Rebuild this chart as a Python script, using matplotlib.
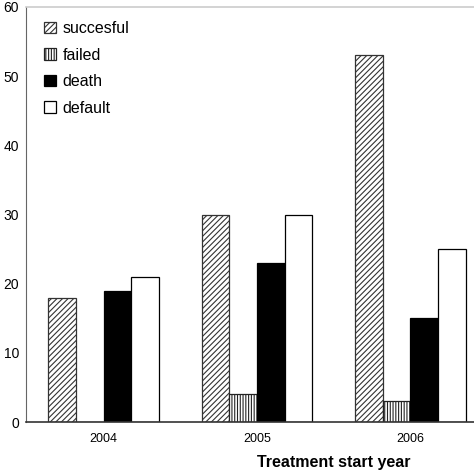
import matplotlib
matplotlib.use("Agg")
import matplotlib.pyplot as plt
import numpy as np

plt.rcParams['font.family'] = ['Liberation Sans', 'DejaVu Sans']
plt.rcParams['hatch.linewidth'] = 0.8

years = ["2004", "2005", "2006"]
series = ["succesful", "failed", "death", "default"]
succesful = [18, 30, 53]
failed = [0, 4, 3]
death = [19, 23, 15]
default = [21, 30, 25]
yticks = [0, 10, 20, 30, 40, 50, 60]

values = [succesful, failed, death, default]
styles = [
    dict(facecolor='white', hatch='//////', edgecolor='#333333'),
    dict(facecolor='white', hatch='||||||', edgecolor='#222222'),
    dict(facecolor='black', hatch=None, edgecolor='black'),
    dict(facecolor='white', hatch=None, edgecolor='black'),
]

fig = plt.figure(figsize=(4.74, 4.74), dpi=100)
ax = fig.add_axes([26/474, 52/474, 448/474, 415/474])

x = np.arange(len(years))
w = 0.18
offsets = [-1.5*w, -0.5*w, 0.5*w, 1.5*w]
handles = []
for vals, st, off, name in zip(values, styles, offsets, series):
    bars = ax.bar(x + off, vals, w, facecolor=st['facecolor'], hatch=st['hatch'],
                  edgecolor=st['edgecolor'], linewidth=0.9, label=name)
    handles.append(bars)

ax.set_xlim(-0.505, 2.414)
ax.set_ylim(0, 60)
ax.set_yticks(yticks)
ax.set_xticks(x)
ax.set_xticklabels(years, fontsize=9)
ax.tick_params(axis='y', labelsize=10, length=0, pad=5)
ax.tick_params(axis='x', length=0, pad=8)
ax.spines['right'].set_visible(False)
ax.spines['top'].set_color('#cccccc')
ax.spines['top'].set_linewidth(1.2)
ax.spines['left'].set_color('#666666')
ax.spines['bottom'].set_color('#333333')
ax.spines['bottom'].set_linewidth(1.2)

leg = ax.legend(handles=handles, labels=series, loc='upper left',
                bbox_to_anchor=(0.040, 0.966), frameon=False, fontsize=11.5,
                handlelength=0.75, handleheight=0.75, handletextpad=0.4,
                labelspacing=0.72, borderpad=0, borderaxespad=0)

fig.text(334/474, 12/474, "Treatment start year", ha='center', va='center',
         fontsize=11.5, fontweight='bold')

fig.savefig("out.png", dpi=100)
